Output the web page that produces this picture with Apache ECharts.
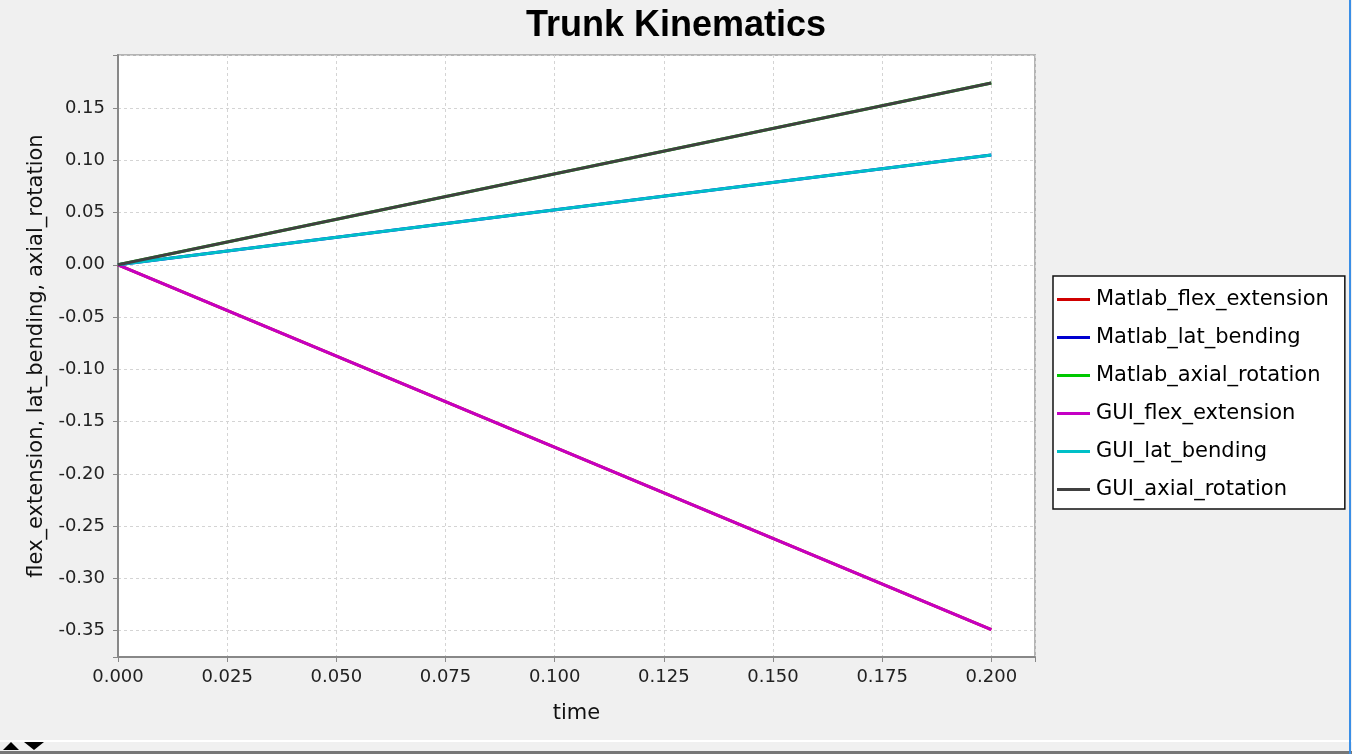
<!DOCTYPE html>
<html lang="en">
<head>
    <meta charset="UTF-8">
    <title>Trunk Kinematics</title>
    <script src="https://cdn.jsdelivr.net/npm/echarts@6/dist/echarts.min.js"></script>
    <style>
        html, body { margin: 0; padding: 0; background: #f0f0f0; }
    </style>
</head>
<body>
<div id="main" style="width: 1352px;height: 754px;"></div>
<script type="text/javascript">
    // time samples (x) and the angle of each series at those times
    var time = [0.0, 0.2];
    var matlabFlex = [0.0, -0.349];
    var matlabLat = [0.0, 0.105];
    var matlabAxial = [0.0, 0.174];
    var guiFlex = [0.0, -0.349];
    var guiLat = [0.0, 0.105];
    var guiAxial = [0.0, 0.174];

    var seriesNames = ['Matlab_flex_extension', 'Matlab_lat_bending', 'Matlab_axial_rotation',
        'GUI_flex_extension', 'GUI_lat_bending', 'GUI_axial_rotation'];
    var seriesValues = [matlabFlex, matlabLat, matlabAxial, guiFlex, guiLat, guiAxial];
    var colors = ['#d00000', '#0000d0', '#00c800', '#c400c4', '#00c0c8', '#404040'];

    var myChart = echarts.init(document.getElementById('main'));

    var series = [];
    for (var i = 0; i < seriesNames.length; i++) {
        var pts = [];
        for (var j = 0; j < time.length; j++) {
            pts.push([time[j], seriesValues[i][j]]);
        }
        series.push({
            name: seriesNames[i],
            type: 'line',
            data: pts,
            showSymbol: false,
            symbol: 'none',
            animation: false,
            lineStyle: {width: 3, color: colors[i]},
            itemStyle: {color: colors[i]}
        });
    }

    var tickFont = {fontFamily: 'DejaVu Sans', fontSize: 18, color: '#222'};

    myChart.setOption({
        backgroundColor: '#f0f0f0',
        color: colors,
        animation: false,
        title: {
            text: 'Trunk Kinematics',
            left: 'center',
            top: 3,
            textStyle: {fontFamily: 'Liberation Sans', fontWeight: 'bold', fontSize: 36, color: '#000'}
        },
        legend: {
            data: seriesNames,
            orient: 'vertical',
            left: 1053,
            top: 276,
            icon: 'rect',
            itemWidth: 33,
            itemHeight: 3,
            itemGap: 17,
            padding: [13, 16, 9, 4],
            backgroundColor: '#fff',
            borderColor: '#111',
            borderWidth: 1.5,
            textStyle: {fontFamily: 'DejaVu Sans', fontSize: 21, lineHeight: 21, color: '#000', padding: [0, 0, 0, 1]}
        },
        grid: {
            left: 118,
            top: 55,
            right: 317,
            bottom: 97,
            show: true,
            backgroundColor: '#fff',
            borderColor: '#b4b4b4',
            borderWidth: 2
        },
        xAxis: {
            type: 'value',
            name: 'time',
            nameLocation: 'middle',
            nameGap: 46,
            nameTextStyle: {fontFamily: 'DejaVu Sans', fontSize: 21, color: '#111'},
            min: 0,
            max: 0.21,
            interval: 0.025,
            axisLine: {show: true, onZero: false, lineStyle: {color: '#888', width: 2}},
            axisTick: {show: true, length: 5, lineStyle: {color: '#888'}},
            axisLabel: Object.assign({
                margin: 11,
                formatter: function (v) {
                    if (v > 0.2001) return '';
                    return v.toFixed(3);
                }
            }, tickFont),
            splitLine: {show: true, lineStyle: {color: '#d4d4d4', type: [3, 3], width: 1}}
        },
        yAxis: {
            type: 'value',
            name: 'flex_extension, lat_bending, axial_rotation',
            nameLocation: 'middle',
            nameGap: 71,
            nameTextStyle: {fontFamily: 'DejaVu Sans', fontSize: 21, color: '#111'},
            min: -0.3752,
            max: 0.2007,
            splitNumber: 11,
            minInterval: 0.05,
            maxInterval: 0.05,
            axisLine: {show: true, onZero: false, lineStyle: {color: '#888', width: 2}},
            axisTick: {show: true, length: 5, lineStyle: {color: '#888'}},
            axisLabel: Object.assign({
                margin: 13,
                formatter: function (v) {
                    var k = Math.round(v / 0.05);
                    if (Math.abs(v - k * 0.05) > 1e-6 || k * 0.05 > 0.19) return '';
                    return (k * 0.05).toFixed(2);
                }
            }, tickFont),
            splitLine: {show: true, lineStyle: {color: '#d4d4d4', type: [3, 3], width: 1}}
        },
        graphic: [
            {type: 'rect', shape: {x: 0, y: 740, width: 1352, height: 2}, style: {fill: '#ffffff'}, silent: true},
            {type: 'rect', shape: {x: 0, y: 751, width: 1352, height: 3}, style: {fill: '#777'}, silent: true},
            {type: 'polygon', shape: {points: [[3, 750], [19, 750], [11, 742]]}, style: {fill: '#000'}, silent: true},
            {type: 'polygon', shape: {points: [[24, 742], [44, 742], [34, 750]]}, style: {fill: '#000'}, silent: true},
            {type: 'rect', shape: {x: 1349, y: 0, width: 2, height: 754}, style: {fill: '#3a8ee6'}, silent: true}
        ],
        series: series
    });
</script>
</body>
</html>
